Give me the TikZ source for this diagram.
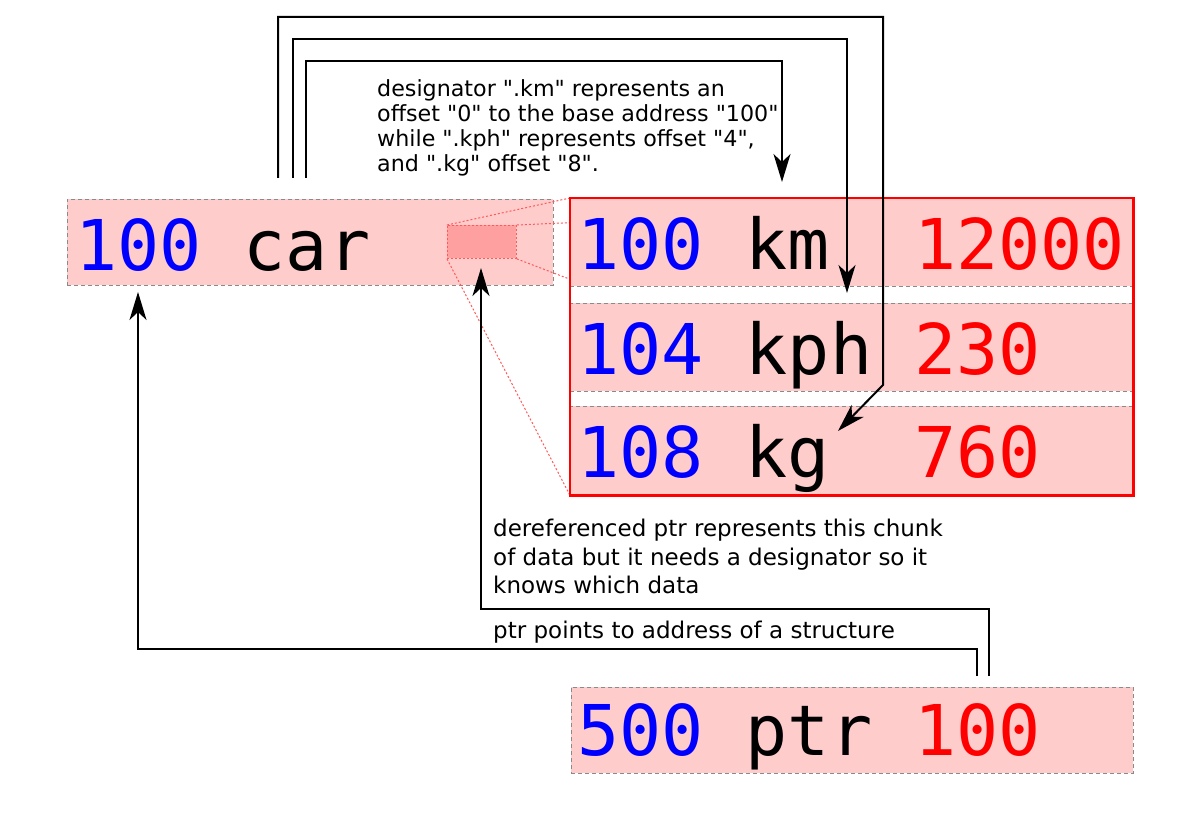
\documentclass[tikz,border=0pt]{standalone}
\usepackage{fontspec}
\setmainfont{DejaVu Sans}[Ligatures=TeXOff]
\newfontfamily\cellfont{DejaVu Sans Mono}
\usetikzlibrary{arrows.meta,positioning}
\definecolor{memblue}{HTML}{0000FF}
\definecolor{memred}{HTML}{FF0000}
\definecolor{mempink}{HTML}{FFCCCC}
\definecolor{memchunk}{HTML}{FFA0A0}
\definecolor{memgrey}{HTML}{8A8A8A}
\definecolor{memink}{HTML}{000000}
\tikzset{
  cell/.style={draw=memgrey, dash pattern=on 4pt off 3pt, line width=0.9pt, fill=mempink, inner sep=0pt, anchor=north west},
  chunkbx/.style={draw=memred!65, dash pattern=on 2pt off 2pt, line width=0.9pt, fill=memchunk, inner sep=0pt, anchor=north west},
  frame/.style={fill=white, inner sep=0pt, anchor=north west, minimum width=563pt, minimum height=297pt},
  val/.style={font=\cellfont\fontsize{70}{80}\selectfont, anchor=base west, inner sep=0pt},
  note/.style={font=\fontsize{22.2}{25.2}\selectfont, align=left, anchor=north west, inner sep=0pt},
  note2/.style={font=\fontsize{23}{28.5}\selectfont, align=left, anchor=north west, inner sep=0pt},
  proj/.style={draw=memred!65, dash pattern=on 2pt off 2pt, line width=1pt},
  arr/.style={-{Stealth[length=28pt, width=17pt, inset=8pt]}, line width=2pt, color=memink},
}
\begin{document}
\begin{tikzpicture}[x=1pt, y=-1pt]
  \useasboundingbox (0,0) rectangle (1200,840);
  % the struct variable
  \node[cell, minimum width=486pt, minimum height=86pt] (car) at (67,199) {};
  \node[val] (cartxt) at (75,270) {\textcolor{memblue}{100}~car};
  \node[chunkbx, minimum width=69pt, minimum height=33pt] (chunk) at (447,225) {};
  % zoom lines from the chunk to the record
  \node[frame] (rec) at (570,198) {};
  \draw[proj] (chunk.north west) -- (rec.north west);
  \draw[proj] (chunk.north east) -- (rec.north east);
  \draw[proj] (chunk.south east) -- (rec.south east);
  \draw[proj] (chunk.south west) -- (rec.south west);
  \fill[white] (rec.north west) rectangle (rec.south east);
  \foreach \top/\adr/\fld/\val in {198/100/km~/12000, 303/104/kph/230, 406/108/kg~/760}
  {
    \node[cell, minimum width=563pt, minimum height=88pt] (row\adr) at (570,\top) {};
    \node[val] (txt\adr) at (577,\top+71) {\textcolor{memblue}{\adr}~\fld~\textcolor{memred}{\val}};
  }
  \draw[memred, line width=2.6pt] (rec.north west) rectangle (rec.south east);
  % the pointer variable
  \node[cell, minimum width=562pt, minimum height=86pt] (ptr) at (571,687) {};
  \node[val] (ptrtxt) at (577,755) {\textcolor{memblue}{500}~ptr~\textcolor{memred}{100}};
  % notes
  \node[note] (desig) at (377,79) {designator ".km" represents an\\offset "0" to the base address "100"\\while ".kph" represents offset "4",\\and ".kg" offset "8".};
  \node[note2] (deref) at (493,519) {dereferenced ptr represents this chunk\\of data but it needs a designator so it\\knows which data};
  \node[note2, anchor=base west] (ptrnote) at (493,638) {ptr points to address of a structure};
  % connectors
  \coordinate (lkg) at (278,178);
  \coordinate (lkph) at (293,178);
  \coordinate (lkm) at (306,178);
  \coordinate (kgtip) at (838,431);
  \coordinate (kphtip) at (847,293);
  \coordinate (kmtip) at (782,182);
  \coordinate (pa) at (977,676);
  \coordinate (pb) at (989,676);
  \coordinate (cartip) at (138,292);
  \coordinate (chunktip) at (481,268);
  \draw[arr] (lkg) |- (883,17) -- (883,385) -- (kgtip);
  \draw[arr] (lkph) |- (847,39) -- (kphtip);
  \draw[arr] (lkm) |- (782,61) -- (kmtip);
  \draw[arr] (pa) |- (138,649) -- (cartip);
  \draw[arr] (pb) |- (481,609) -- (chunktip);
\end{tikzpicture}
\end{document}
